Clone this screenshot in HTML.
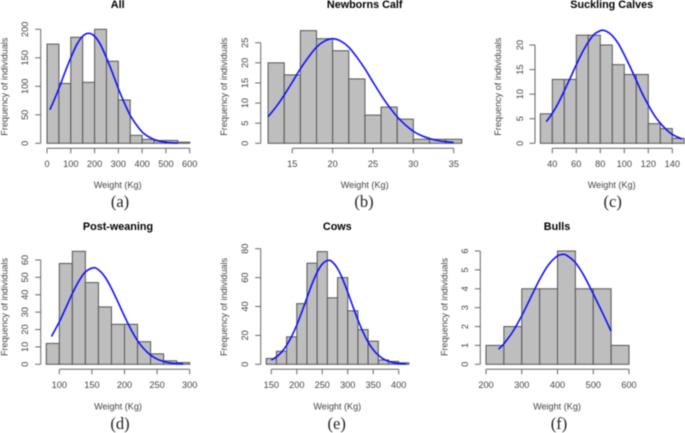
<!DOCTYPE html>
<html lang="en">
<head>
<meta charset="utf-8">
<title>Weight histograms</title>
<style>
  html, body { margin: 0; padding: 0; background: #fff; }
  #figure { display: block; width: 685px; height: 433px; filter: blur(0.4px); }
  .title { font: bold 10.8px "Liberation Sans", sans-serif; fill: #000; text-anchor: middle; }
  .tick { font: 9.2px "Liberation Sans", sans-serif; fill: #444; text-anchor: middle; }
  .label { font: 9.1px "Liberation Sans", sans-serif; fill: #444; text-anchor: middle; }
  .caption { font: 16.5px "Liberation Serif", serif; fill: #222; text-anchor: middle; }
</style>
</head>
<body>
<svg id="figure" xmlns="http://www.w3.org/2000/svg" width="685" height="433" viewBox="0 0 685 433"></svg>
<script>
// ---- Data: panel (a) All
const allCounts = [174, 105, 186, 107, 200, 144, 76, 14, 7, 5, 5, 2];
const allBinStart = 0;
const allBinWidth = 50;
const allXTicks = [0, 100, 200, 300, 400, 500, 600];
const allYTicks = [0, 50, 100, 150, 200];
const allCurveX = [12, 25, 50, 75, 100, 125, 150, 175, 200, 225, 250, 275, 300, 325, 350, 375, 400, 425, 450, 475, 500, 525, 550];
const allCurveY = [59, 71, 96, 124, 150, 173, 188, 193, 188, 173, 150, 124, 96, 71, 49, 33, 20, 12, 6.7, 3.5, 1.7, 0.8, 0.4];

// ---- Data: panel (b) Newborns Calf
const calfCounts = [20, 17, 28, 26, 23, 16, 7, 9, 6, 1, 1, 1];
const calfBinStart = 12;
const calfBinWidth = 2;
const calfXTicks = [15, 20, 25, 30, 35];
const calfYTicks = [0, 5, 10, 15, 20, 25];
const calfCurveX = [12, 13, 14, 15, 16, 17, 18, 19, 20, 21, 22, 23, 24, 25, 26, 27, 28, 29, 30, 31, 32, 33, 34, 35];
const calfCurveY = [6.6, 9.1, 12, 15.2, 18.5, 21.4, 23.9, 25.4, 26, 25.4, 23.9, 21.4, 18.5, 15.2, 12, 9.1, 6.6, 4.6, 3, 1.9, 1.2, 0.7, 0.4, 0.2];

// ---- Data: panel (c) Suckling Calves
const sucklingCounts = [6, 13, 13, 22, 22, 20, 16, 14, 14, 4, 3, 1];
const sucklingBinStart = 30;
const sucklingBinWidth = 10;
const sucklingXTicks = [40, 60, 80, 100, 120, 140];
const sucklingYTicks = [0, 5, 10, 15, 20];
const sucklingCurveX = [35, 40, 45, 50, 55, 60, 65, 70, 75, 80, 82, 85, 90, 95, 100, 105, 110, 115, 120, 125, 130, 135, 140, 145, 148];
const sucklingCurveY = [4.4, 6.1, 8.2, 10.7, 13.3, 16, 18.5, 20.6, 22.2, 22.9, 23, 22.8, 21.9, 20.3, 18, 15.5, 12.8, 10.1, 7.8, 5.7, 4.1, 2.8, 1.8, 1.2, 0.87];

// ---- Data: panel (d) Post-weaning
const weaningCounts = [12, 58, 65, 47, 33, 23, 23, 13, 6, 2, 1];
const weaningBinStart = 80;
const weaningBinWidth = 20;
const weaningXTicks = [100, 150, 200, 250, 300];
const weaningYTicks = [0, 10, 20, 30, 40, 50, 60];
const weaningCurveX = [88, 100, 110, 120, 130, 140, 152, 160, 170, 180, 190, 200, 210, 220, 230, 240, 250, 260, 270, 280, 290];
const weaningCurveY = [16, 24.4, 32.5, 40.7, 47.9, 53.1, 55.5, 54.4, 50.3, 43.7, 35.8, 27.6, 20, 13.6, 8.8, 5.3, 3, 1.6, 0.8, 0.4, 0.2];

// ---- Data: panel (e) Cows
const cowsCounts = [4, 9, 19, 42, 70, 78, 46, 60, 37, 24, 16, 3, 2, 1];
const cowsBinStart = 140;
const cowsBinWidth = 20;
const cowsXTicks = [150, 200, 250, 300, 350, 400];
const cowsYTicks = [0, 20, 40, 60, 80];
const cowsCurveX = [150, 160, 170, 180, 190, 200, 210, 220, 230, 240, 250, 262, 270, 280, 290, 300, 310, 320, 330, 340, 350, 360, 370, 380, 390, 400, 415];
const cowsCurveY = [3, 5.1, 8.4, 13.1, 19.4, 27.2, 36.3, 46, 55.6, 63.7, 69.4, 72, 70.8, 66.3, 59, 49.9, 40.1, 30.7, 22.3, 15.4, 10.1, 6.3, 3.7, 2.1, 1.1, 0.6, 0.2];

// ---- Data: panel (f) Bulls
const bullsCounts = [1, 2, 4, 4, 6, 4, 4, 1];
const bullsBinStart = 200;
const bullsBinWidth = 50;
const bullsXTicks = [200, 300, 400, 500, 600];
const bullsYTicks = [0, 1, 2, 3, 4, 5, 6];
const bullsCurveX = [235, 250, 275, 300, 325, 350, 375, 400, 415, 425, 450, 475, 500, 525, 550];
const bullsCurveY = [0.8, 1.09, 1.73, 2.57, 3.53, 4.49, 5.27, 5.74, 5.82, 5.78, 5.39, 4.66, 3.73, 2.76, 1.75];

// ---- Panels: data references plus the axis calibration of each plot
const panels = [
  { key: 'all', title: 'All', caption: '(a)', counts: allCounts, binStart: allBinStart, binWidth: allBinWidth, xTicks: allXTicks, yTicks: allYTicks, curveX: allCurveX, curveY: allCurveY,
    xRef: [0, 47, 600, 189.7], yRef: [0, 143.3, 200, 29.3], axisLeft: 40.7, yLabelX: 7.5, yTickX: 28, labelCx: 117.7, captionX: 120, yLabelCy: 86.7, top: 0 },
  { key: 'newborns', title: 'Newborns Calf', caption: '(b)', counts: calfCounts, binStart: calfBinStart, binWidth: calfBinWidth, xTicks: calfXTicks, yTicks: calfYTicks, curveX: calfCurveX, curveY: calfCurveY,
    xRef: [15, 292.3, 35, 453.7], yRef: [0, 143.3, 25, 42.7], axisLeft: 260.7, yLabelX: 227, yTickX: 248, labelCx: 364.7, captionX: 364, yLabelCy: 86.7, top: 0 },
  { key: 'suckling', title: 'Suckling Calves', caption: '(c)', counts: sucklingCounts, binStart: sucklingBinStart, binWidth: sucklingBinWidth, xTicks: sucklingXTicks, yTicks: sucklingYTicks, curveX: sucklingCurveX, curveY: sucklingCurveY,
    xRef: [40, 552.3, 140, 672.3], yRef: [0, 143.3, 20, 45], axisLeft: 535, yLabelX: 501, yTickX: 523, labelCx: 611.7, captionX: 612.7, yLabelCy: 86.7, top: 0 },
  { key: 'post-weaning', title: 'Post-weaning', caption: '(d)', counts: weaningCounts, binStart: weaningBinStart, binWidth: weaningBinWidth, xTicks: weaningXTicks, yTicks: weaningYTicks, curveX: weaningCurveX, curveY: weaningCurveY,
    xRef: [100, 59.3, 300, 189.7], yRef: [0, 364.3, 60, 260], axisLeft: 40.7, yLabelX: 7.5, yTickX: 28, labelCx: 118, captionX: 120, yLabelCy: 307, top: 216 },
  { key: 'cows', title: 'Cows', caption: '(e)', counts: cowsCounts, binStart: cowsBinStart, binWidth: cowsBinWidth, xTicks: cowsXTicks, yTicks: cowsYTicks, curveX: cowsCurveX, curveY: cowsCurveY,
    xRef: [150, 271.3, 400, 398.7], yRef: [0, 364.3, 80, 248.7], axisLeft: 260.7, yLabelX: 227, yTickX: 248, labelCx: 337.3, captionX: 336.7, yLabelCy: 307, top: 216 },
  { key: 'bulls', title: 'Bulls', caption: '(f)', counts: bullsCounts, binStart: bullsBinStart, binWidth: bullsBinWidth, xTicks: bullsXTicks, yTicks: bullsYTicks, curveX: bullsCurveX, curveY: bullsCurveY,
    xRef: [200, 486, 600, 629], yRef: [0, 364.3, 6, 251], axisLeft: 480.3, yLabelX: 447.5, yTickX: 468, labelCx: 557, captionX: 559, yLabelCy: 307, top: 216 }
];

const SVG_NS = 'http://www.w3.org/2000/svg';
const figure = document.getElementById('figure');

function make(tag, parent) {
  const el = document.createElementNS(SVG_NS, tag);
  parent.appendChild(el);
  return el;
}

function linearScale(ref) {
  const k = (ref[3] - ref[1]) / (ref[2] - ref[0]);
  return function (v) { return ref[1] + (v - ref[0]) * k; };
}

// Catmull-Rom spline through the curve's points, expressed as cubic Beziers
function smoothPath(pts) {
  let d = 'M' + pts[0][0].toFixed(2) + ' ' + pts[0][1].toFixed(2);
  for (let i = 0; i < pts.length - 1; i++) {
    const p0 = pts[Math.max(0, i - 1)];
    const p1 = pts[i];
    const p2 = pts[i + 1];
    const p3 = pts[Math.min(pts.length - 1, i + 2)];
    const c1x = p1[0] + (p2[0] - p0[0]) / 6;
    const c1y = p1[1] + (p2[1] - p0[1]) / 6;
    const c2x = p2[0] - (p3[0] - p1[0]) / 6;
    const c2y = p2[1] - (p3[1] - p1[1]) / 6;
    d += 'C' + c1x.toFixed(2) + ' ' + c1y.toFixed(2) + ' ' + c2x.toFixed(2) + ' ' + c2y.toFixed(2) + ' ' + p2[0].toFixed(2) + ' ' + p2[1].toFixed(2);
  }
  return d;
}

function setText(el, cls, x, y, str) {
  el.setAttribute('class', cls);
  el.setAttribute('x', x);
  el.setAttribute('y', y);
  el.textContent = str;
}

panels.forEach(function (p) {
  const xScale = linearScale(p.xRef);
  const yScale = linearScale(p.yRef);
  const axisY = yScale(0) + 5;
  const axisColor = '#666';

  const group = make('g', figure);
  
  

  // Title
  const title = make('text', group);
  setText(title, 'title', p.labelCx, p.top + (p.top ? 14 : 8.2), p.title);
  
  

  // Bars
  p.counts.forEach(function (count, i) {
    const x0 = xScale(p.binStart + i * p.binWidth);
    const x1 = xScale(p.binStart + (i + 1) * p.binWidth);
    const bar = make('rect', group);
    bar.setAttribute('x', x0);
    bar.setAttribute('y', yScale(count));
    bar.setAttribute('width', x1 - x0);
    bar.setAttribute('height', yScale(0) - yScale(count));
    bar.setAttribute('fill', '#bebebe');
    bar.setAttribute('stroke', '#555');
    bar.setAttribute('stroke-width', '1');
    
    
  });

  // Fitted curve
  const curvePts = p.curveX.map(function (v, i) { return [xScale(v), yScale(p.curveY[i])]; });
  const curve = make('path', group);
  curve.setAttribute('d', smoothPath(curvePts));
  curve.setAttribute('fill', 'none');
  curve.setAttribute('stroke', '#0f0fff');
  curve.setAttribute('stroke-width', '1.6');
  
  

  // X axis
  const xAxis = make('line', group);
  xAxis.setAttribute('x1', xScale(p.xTicks[0]));
  xAxis.setAttribute('x2', xScale(p.xTicks[p.xTicks.length - 1]));
  xAxis.setAttribute('y1', axisY);
  xAxis.setAttribute('y2', axisY);
  xAxis.setAttribute('stroke', axisColor);
  xAxis.setAttribute('stroke-width', '1');
  
  

  p.xTicks.forEach(function (v) {
    const tick = make('line', group);
    tick.setAttribute('x1', xScale(v));
    tick.setAttribute('x2', xScale(v));
    tick.setAttribute('y1', axisY);
    tick.setAttribute('y2', axisY + 5);
    tick.setAttribute('stroke', axisColor);
    tick.setAttribute('stroke-width', '1');
    
    
    const label = make('text', group);
    setText(label, 'tick', xScale(v), axisY + 18.7, String(v));
    
    
  });

  // Y axis
  const yAxis = make('line', group);
  yAxis.setAttribute('x1', p.axisLeft);
  yAxis.setAttribute('x2', p.axisLeft);
  yAxis.setAttribute('y1', yScale(p.yTicks[0]));
  yAxis.setAttribute('y2', yScale(p.yTicks[p.yTicks.length - 1]));
  yAxis.setAttribute('stroke', axisColor);
  yAxis.setAttribute('stroke-width', '1');
  
  

  p.yTicks.forEach(function (v) {
    const tick = make('line', group);
    tick.setAttribute('x1', p.axisLeft - 5.5);
    tick.setAttribute('x2', p.axisLeft);
    tick.setAttribute('y1', yScale(v));
    tick.setAttribute('y2', yScale(v));
    tick.setAttribute('stroke', axisColor);
    tick.setAttribute('stroke-width', '1');
    
    
    const label = make('text', group);
    setText(label, 'tick', p.yTickX, yScale(v), String(v));
    label.setAttribute('transform', 'rotate(-90 ' + p.yTickX + ' ' + yScale(v) + ')');
    
    
  });

  // Axis titles
  const xTitle = make('text', group);
  setText(xTitle, 'label', p.labelCx, p.top ? 409.7 : 188, 'Weight (Kg)');
  
  

  const yTitle = make('text', group);
  setText(yTitle, 'label', p.yLabelX, p.yLabelCy, 'Frequency of individuals');
  yTitle.setAttribute('transform', 'rotate(-90 ' + p.yLabelX + ' ' + p.yLabelCy + ')');
  
  

  // Caption under the panel
  const caption = make('text', group);
  setText(caption, 'caption', p.captionX, p.top ? 429 : 207, p.caption);
  
  
});
</script>
</body>
</html>
